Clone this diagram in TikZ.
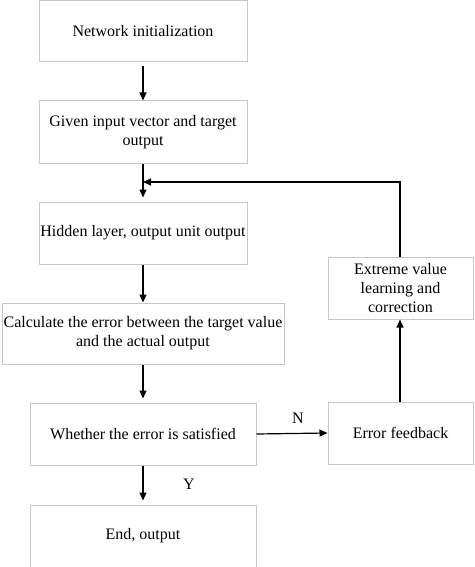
\documentclass[tikz,border=0pt]{standalone}
\usepackage{fontspec}
\setmainfont{Liberation Serif}
\usetikzlibrary{arrows.meta,positioning}
\begin{document}
\begin{tikzpicture}[x=1pt,y=-1pt,
  box/.style={draw=black!22,line width=1pt,rectangle,inner sep=0pt,align=center,
    font=\fontsize{16}{19}\selectfont},
  arr/.style={line width=1.2pt,-{Triangle[length=8pt,width=7pt]}},
  lbl/.style={font=\fontsize{16}{19}\selectfont,inner sep=0pt}]
\useasboundingbox (0,0) rectangle (474,567);
\node[box,minimum width=208pt,minimum height=61pt] (b1) at (143,31.5) {Network initialization};
\node[box,minimum width=208pt,minimum height=62pt] (b2) at (143,132) {Given input vector and target\\output};
\node[box,minimum width=208pt,minimum height=62pt] (b3) at (143,233) {Hidden layer, output unit output};
\node[box,minimum width=282pt,minimum height=61pt] (b4) at (143,333.5) {Calculate the error between the target value\\and the actual output};
\node[box,minimum width=226pt,minimum height=62pt] (b5) at (143,434) {Whether the error is satisfied};
\node[box,minimum width=226pt,minimum height=62pt] (b6) at (143,536) {End, output};
\node[box,minimum width=145pt,minimum height=62pt] (ext) at (400.5,288) {Extreme value\\learning and\\correction};
\node[box,minimum width=145pt,minimum height=62pt] (err) at (400.5,433) {Error feedback};
\coordinate (j) at (143,182);
\draw[arr,shorten <=4pt] (b1) -- (b2);
\draw[arr,shorten >=4pt] (b2) -- (b3);
\draw[arr] (ext.north -| 400,0) |- (j);
\draw[arr] (b3) -- (b4);
\draw[arr,shorten >=4pt] (b4) -- (b5);
\draw[arr] (b5.east) -- (err.west);
\draw[arr,shorten >=4pt] (b5) -- (b6);
\draw[arr] (err.north -| 400,0) -- (ext.south -| 400,0);
\node[lbl] (n) at (298,418) {N};
\node[lbl] (y) at (189,484) {Y};
\end{tikzpicture}
\end{document}
